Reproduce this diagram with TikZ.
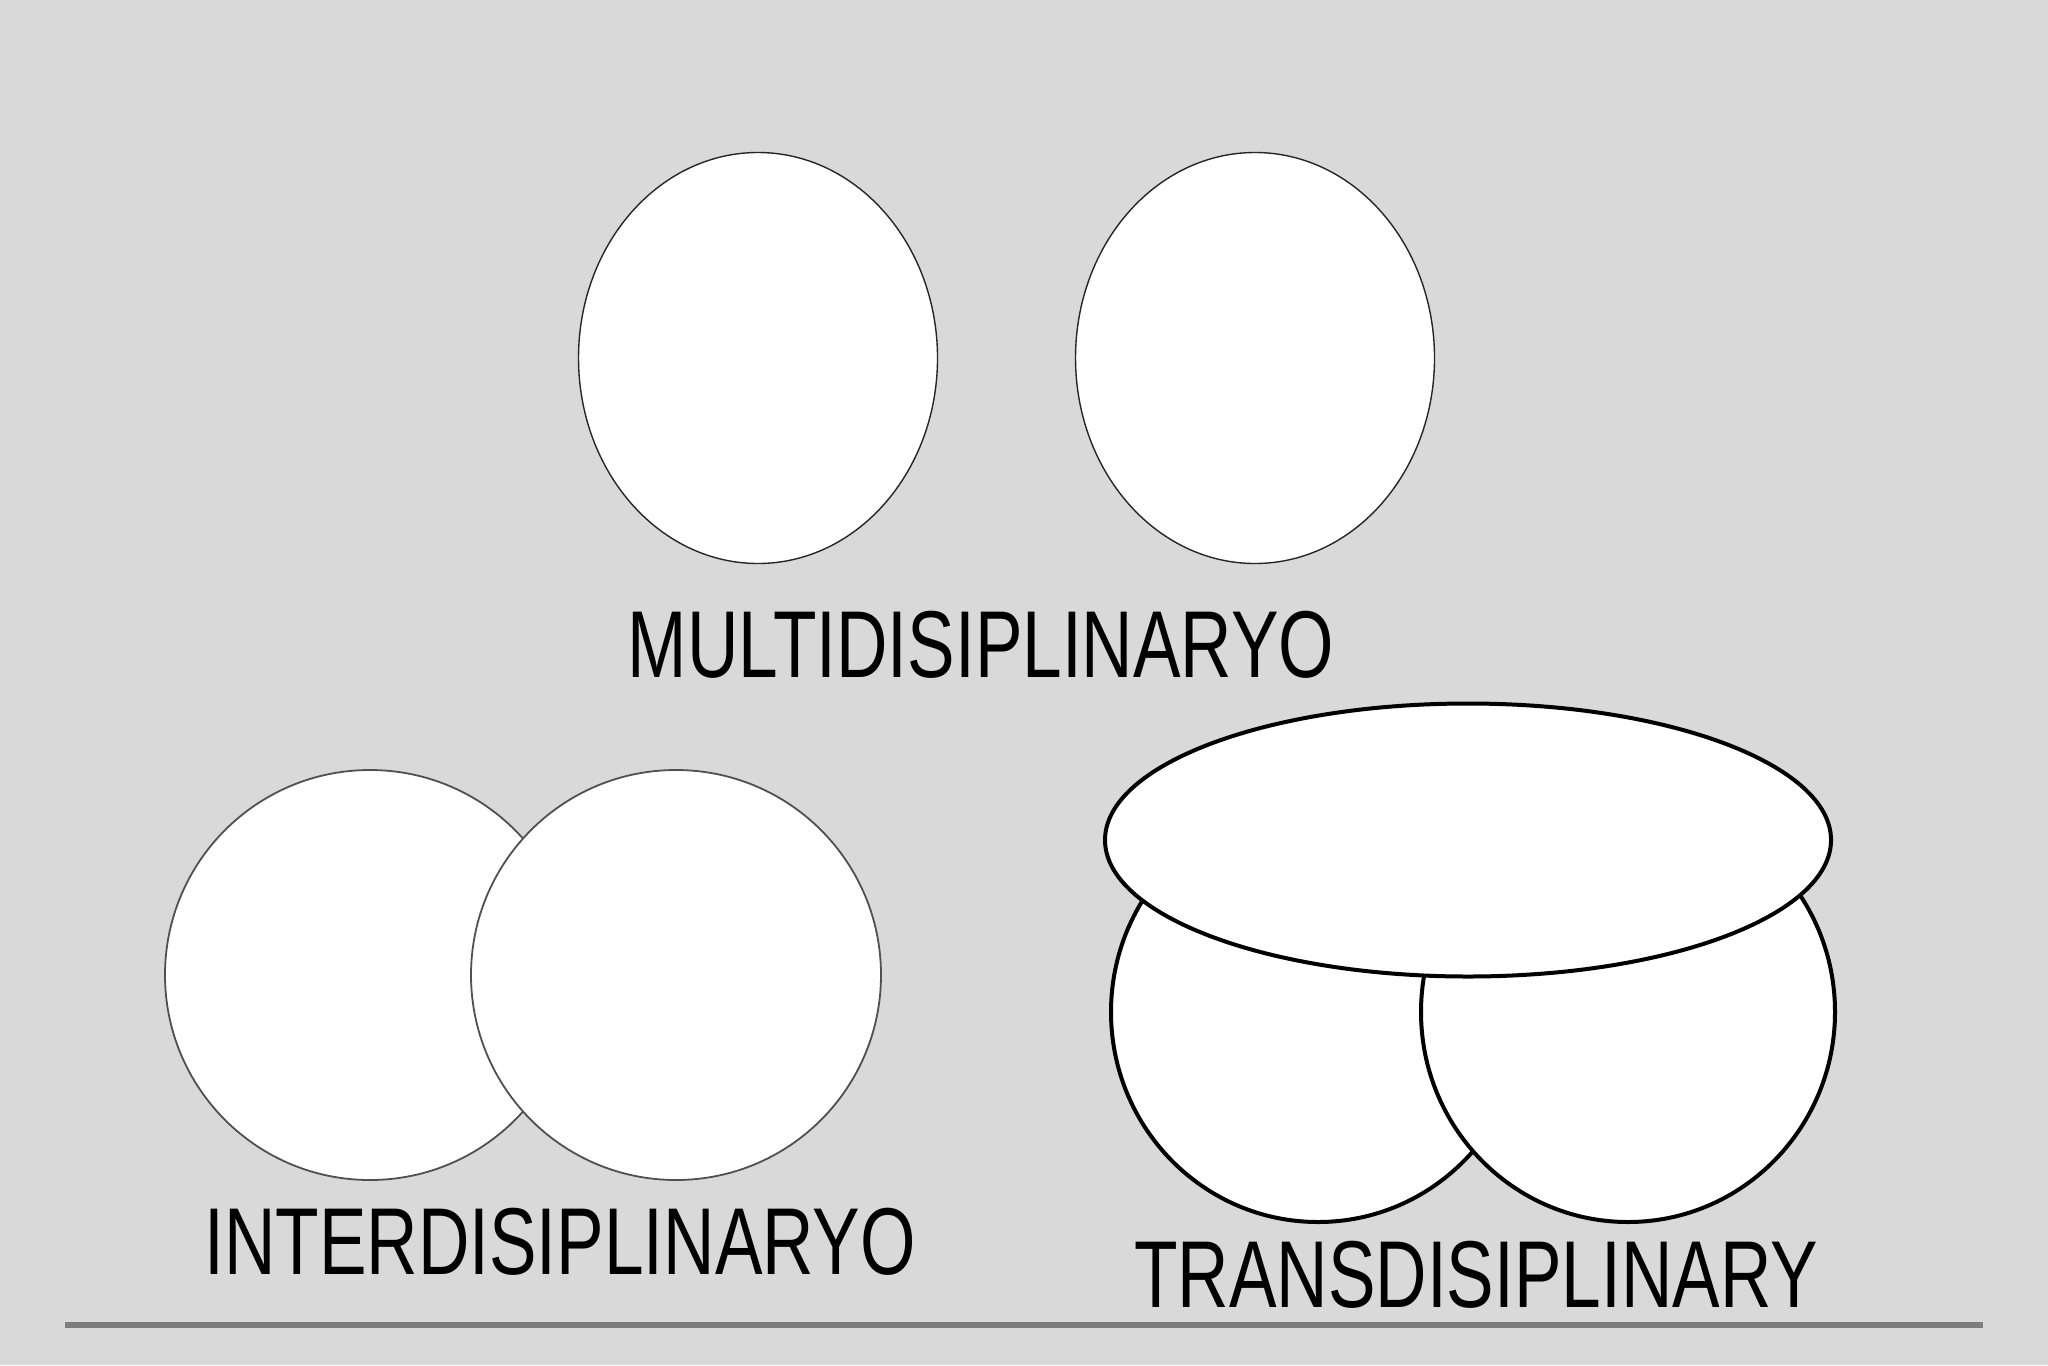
\documentclass[tikz,border=0pt]{standalone}
\usepackage{fontspec}
\setmainfont{Liberation Sans}
\usetikzlibrary{positioning,shapes.geometric}
\definecolor{bggray}{RGB}{217,217,217}
\definecolor{rulegray}{RGB}{125,125,125}
\definecolor{edgegray}{RGB}{80,80,80}

\begin{document}
\begin{tikzpicture}[x=0.5pt,y=-0.5pt,
    blob/.style={ellipse, draw=black!85, fill=white, inner sep=0pt, outer sep=0pt, line width=0.7pt},
    thinblob/.style={blob, draw=edgegray, line width=0.9pt},
    thickblob/.style={blob, draw=black, line width=2pt},
    caption/.style={font=\fontsize{47.5}{50}\selectfont, inner sep=0pt, text=black}]

        \fill[bggray] (0,0) rectangle (2048,1365);
        \useasboundingbox (0,0) rectangle (2048,1365);

        % multidisiplinaryo
        \node[blob, minimum width=179.5pt, minimum height=205.5pt] (multi1) at (758,358) {};
        \node[blob, minimum width=179.5pt, minimum height=205.5pt] (multi2) [right=69pt of multi1] {};
        \node[caption] (multilabel) at (981,645) {\scalebox{0.75}[1]{MULTIDISIPLINARYO}};

        % interdisiplinaryo
        \node[thinblob, minimum size=205pt] (inter1) at (370,975) {};
        \node[thinblob, minimum size=205pt] (inter2) at (676,975) {};
        \node[caption] (interlabel) at (560,1242) {\scalebox{0.75}[1]{INTERDISIPLINARYO}};

        % transdisiplinary
        \node[thickblob, minimum width=207pt, minimum height=210pt] (trans1) at (1318,1012) {};
        \node[thickblob, minimum width=207pt, minimum height=210pt] (trans2) at (1628,1012) {};
        \node[thickblob, minimum width=363pt, minimum height=136.5pt] (transtop) at (1468,840) {};
        \node[caption] (translabel) at (1476,1275) {\scalebox{0.75}[1]{TRANSDISIPLINARY}};

        % rule
        \coordinate (rulestart) at (65,1325);
        \coordinate (ruleend) at (1983,1325);
        \draw[rulegray, line width=3.2pt] (rulestart) -- (ruleend);

\end{tikzpicture}
\end{document}
